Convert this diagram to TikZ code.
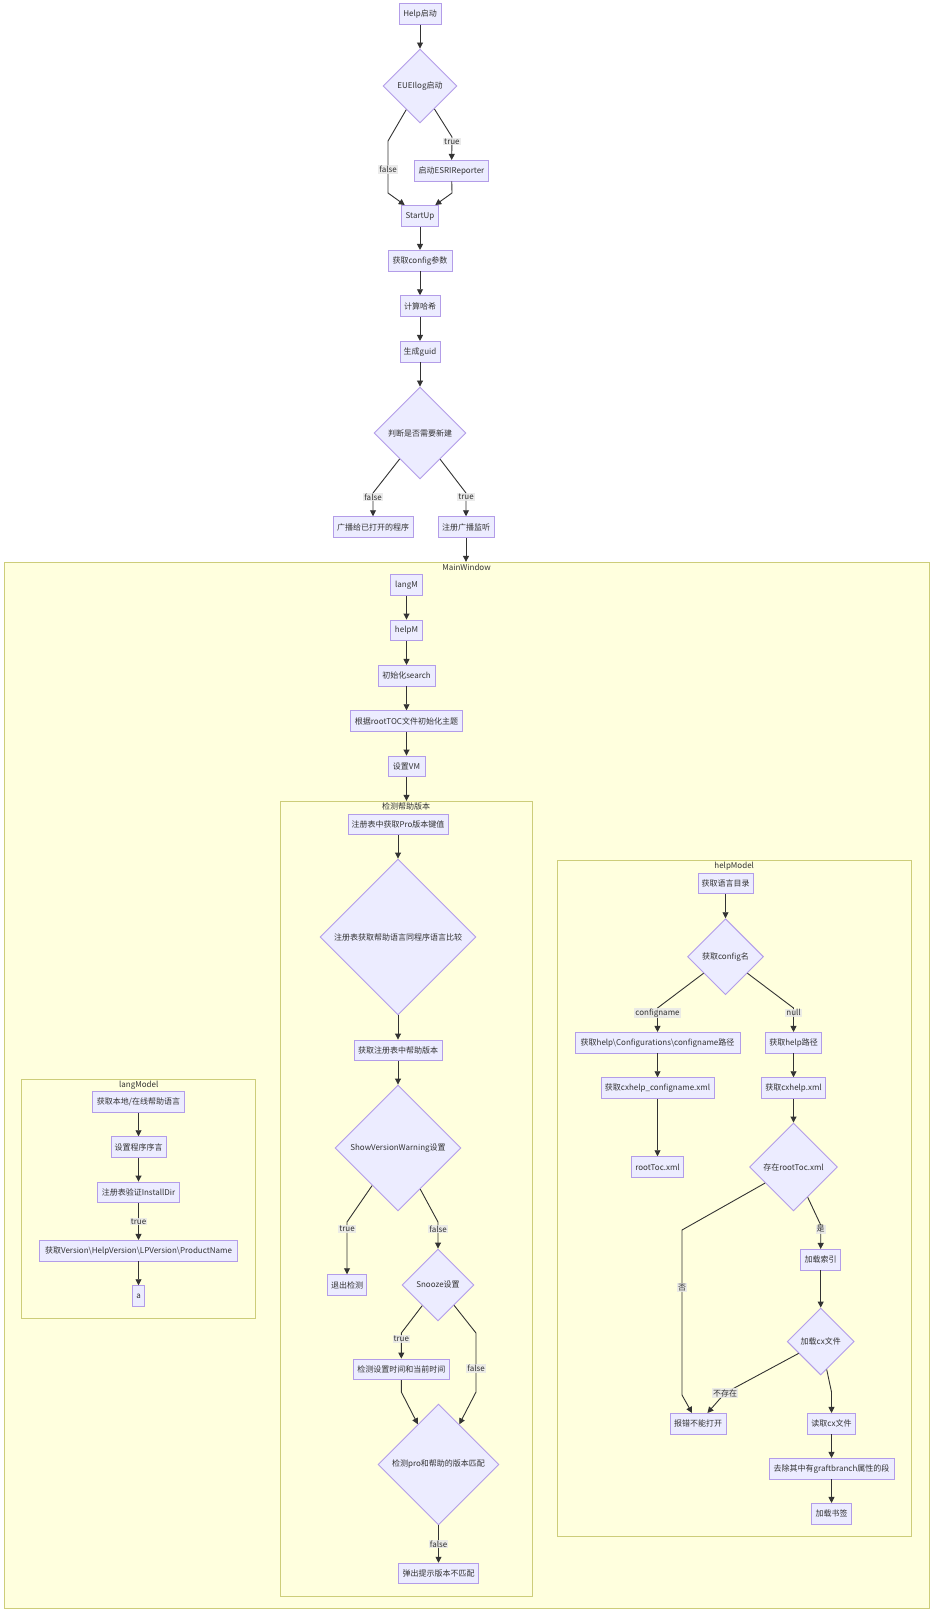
\documentclass[tikz,border=0pt]{standalone}
\usepackage{fontspec}
\setmainfont{Noto Sans CJK SC}
\usetikzlibrary{shapes.geometric,arrows.meta}
\definecolor{nodefill}{HTML}{ECECFF}
\definecolor{nodeline}{HTML}{B39DE8}
\definecolor{clusfill}{HTML}{FFFFDE}
\definecolor{clusline}{HTML}{CDCD7A}
\definecolor{txt}{HTML}{333333}
\definecolor{lblbg}{HTML}{E8E8E8}
\tikzset{
  fnt/.style={font=\fontsize{8}{9}\selectfont},
  box/.style={draw=nodeline, fill=nodefill, line width=0.9pt, minimum height=20.6pt,
    inner xsep=3pt, inner ysep=0pt, text=txt, fnt},
  dia/.style={diamond, aspect=1, draw=nodeline, fill=nodefill, line width=0.9pt,
    inner sep=0pt, text=txt, fnt},
  clus/.style={draw=clusline, fill=clusfill, line width=1pt, inner sep=0pt},
  clab/.style={text=txt, fnt, inner sep=0pt, anchor=north},
  edge/.style={draw=txt, line width=0.9pt, -{Triangle[length=6pt,width=6pt]}},
  lbl/.style={fill=lblbg, fill opacity=0.85, text opacity=1, text=txt, fnt,
    inner xsep=1pt, inner ysep=1pt}
}
\begin{document}
\begin{tikzpicture}[x=1pt,y=-1pt]
\fill[white] (0,0) rectangle (933,1613);
\useasboundingbox (0,0) rectangle (933,1613);

% clusters
\node[clus, minimum width=925pt, minimum height=1045.7pt] (mainwin) at (466.5,1085.2) {};
\node[clab] (mainwinlab) at (466.5,563.5) {MainWindow};
\node[clus, minimum width=252pt, minimum height=794.7pt] (chk) at (406,1198.7) {};
\node[clab] (chklab) at (406,802.5) {检测帮助版本};
\node[clus, minimum width=234pt, minimum height=238.7pt] (langmodel) at (138.7,1198.7) {};
\node[clab] (langmodellab) at (138.7,1080.5) {langModel};
\node[clus, minimum width=353.7pt, minimum height=676pt] (helpmodel) at (734.2,1198.7) {};
\node[clab] (helpmodellab) at (734.2,862) {helpModel};

% top column
\node[box, minimum width=42pt] (help) at (420,14) {Help启动};
\node[dia, minimum width=74pt, minimum height=74pt] (eue) at (420,86) {EUEIlog启动};
\node[box, minimum width=74pt] (esri) at (451.5,170.7) {启动ESRIReporter};
\node[box, minimum width=37pt, minimum height=21pt] (startup) at (420,216) {StartUp};
\node[box, minimum width=64pt] (cfg) at (420,260.7) {获取config参数};
\node[box, minimum width=40pt] (hash) at (420,306) {计算哈希};
\node[box, minimum width=40pt] (guid) at (420,351.7) {生成guid};
\node[dia, minimum width=92pt, minimum height=92pt] (judge) at (420,433) {判断是否需要新建};
\node[box, minimum width=80pt] (bc) at (373,527) {广播给已打开的程序};
\node[box, minimum width=56pt] (reg) at (466,527) {注册广播监听};

% main window column
\node[box, minimum width=32pt] (langm) at (406.5,585) {langM};
\node[box, minimum width=32pt] (helpm) at (406.5,630.3) {helpM};
\node[box, minimum width=57pt] (search) at (406.5,675.7) {初始化search};
\node[box, minimum width=112pt] (theme) at (406.5,721) {根据rootTOC文件初始化主题};
\node[box, minimum width=37pt] (vm) at (406.5,766.3) {设置VM};

% check cluster
\node[box, minimum width=100pt] (pro) at (398,824.3) {注册表中获取Pro版本键值};
\node[dia, minimum width=156pt, minimum height=156pt] (cmp) at (398,937) {注册表获取帮助语言同程序语言比较};
\node[box, minimum width=88pt] (getver) at (398,1050.3) {获取注册表中帮助版本};
\node[dia, minimum width=126pt, minimum height=126pt] (svw) at (398,1148) {ShowVersionWarning设置};
\node[box, minimum width=39pt] (exit) at (347,1285) {退出检测};
\node[dia, minimum width=72pt, minimum height=72pt] (snooze) at (438,1285) {Snooze设置};
\node[box, minimum width=96pt] (chktime) at (401.3,1369.3) {检测设置时间和当前时间};
\node[dia, minimum width=121pt, minimum height=121pt] (match) at (438.5,1464.5) {检测pro和帮助的版本匹配};
\node[box, minimum width=80pt] (popup) at (438.5,1573.5) {弹出提示版本不匹配};

% langModel
\node[box, minimum width=92pt] (lang1) at (138.5,1102) {获取本地/在线帮助语言};
\node[box, minimum width=55pt] (lang2) at (138.5,1147) {设置程序序言};
\node[box, minimum width=82pt] (lang3) at (138.5,1192.3) {注册表验证InstallDir};
\node[box, minimum width=198pt] (lang4) at (138.5,1250.7) {获取Version\textbackslash HelpVersion\textbackslash LPVersion\textbackslash ProductName};
\node[box, minimum width=12pt, inner xsep=2pt] (langa) at (138.5,1296) {a};

% helpModel
\node[box, minimum width=55pt] (hm1) at (725.5,883.5) {获取语言目录};
\node[dia, minimum width=76pt, minimum height=76pt] (hcfg) at (725.5,956.7) {获取config名};
\node[box, minimum width=165pt] (hpath1) at (657.5,1042.7) {获取help\textbackslash Configurations\textbackslash configname路径};
\node[box, minimum width=56pt] (hpath2) at (793.5,1042.7) {获取help路径};
\node[box, minimum width=113pt] (hx1) at (657.5,1088) {获取cxhelp\_configname.xml};
\node[box, minimum width=64pt] (hx2) at (793.5,1088) {获取cxhelp.xml};
\node[box, minimum width=52pt] (root) at (657.5,1167) {rootToc.xml};
\node[dia, minimum width=88pt, minimum height=88pt] (exist) at (793.5,1167) {存在rootToc.xml};
\node[box, minimum width=40pt] (idx) at (820.7,1259.7) {加载索引};
\node[dia, minimum width=67pt, minimum height=67pt] (loadcx) at (820.7,1341.5) {加载cx文件};
\node[box, minimum width=56pt] (err) at (698,1423.7) {报错不能打开};
\node[box, minimum width=48pt] (read) at (831.5,1423.7) {读取cx文件};
\node[box, minimum width=125pt] (graft) at (831.5,1468.7) {去除其中有graftbranch属性的段};
\node[box, minimum width=40pt] (bm) at (831.5,1513.7) {加载书签};

% edges: top
\draw[edge] (help) -- (eue);
\draw[edge] (eue) -- (388,141) -- node[lbl,pos=0.55]{false} (388,193) -- (startup);
\draw[edge] (eue) -- (452,137) -- node[lbl,pos=0.2]{true} (esri);
\draw[edge] (esri) -- (452,193) -- (startup);
\draw[edge] (startup) -- (cfg);
\draw[edge] (cfg) -- (hash);
\draw[edge] (hash) -- (guid);
\draw[edge] (guid) -- (judge);
\draw[edge] (judge) -- (373,493) -- node[lbl,pos=0.17]{false} (bc);
\draw[edge] (judge) -- (466,493) -- node[lbl,pos=0.17]{true} (reg);
\draw[edge] (reg) -- (reg |- mainwin.north);

% main window
\draw[edge] (langm) -- (helpm);
\draw[edge] (helpm) -- (search);
\draw[edge] (search) -- (theme);
\draw[edge] (theme) -- (vm);
\draw[edge] (vm) -- (vm |- chk.north);

% check cluster
\draw[edge] (pro) -- (cmp);
\draw[edge] (cmp) -- (getver);
\draw[edge] (getver) -- (svw);
\draw[edge] (svw) -- (347,1222) -- node[lbl,pos=0.13]{true} (exit);
\draw[edge] (svw) -- (438,1222) -- node[lbl,pos=0.26]{false} (snooze);
\draw[edge] (snooze) -- (401.3,1333) -- node[lbl,pos=0.23]{true} (chktime);
\draw[edge] (snooze) -- (476,1333) -- node[lbl,pos=0.6]{false} (476,1392) -- (match);
\draw[edge] (chktime) -- (401.3,1392) -- (match);
\draw[edge] (match) -- node[lbl]{false} (popup);

% langModel
\draw[edge] (lang1) -- (lang2);
\draw[edge] (lang2) -- (lang3);
\draw[edge] (lang3) -- node[lbl]{true} (lang4);
\draw[edge] (lang4) -- (langa);

% helpModel
\draw[edge] (hm1) -- (hcfg);
\draw[edge] (hcfg) -- (657.5,1008) -- node[lbl,pos=0.2]{configname} (hpath1);
\draw[edge] (hcfg) -- (793.5,1008) -- node[lbl,pos=0.2]{null} (hpath2);
\draw[edge] (hpath1) -- (hx1);
\draw[edge] (hpath2) -- (hx2);
\draw[edge] (hx1) -- (root);
\draw[edge] (hx2) -- (exist);
\draw[edge] (exist) -- (682,1230) -- node[lbl,pos=0.35]{否} (682,1395) -- (err);
\draw[edge] (exist) -- (820.7,1225) -- node[lbl,pos=0.17]{是} (idx);
\draw[edge] (idx) -- (loadcx);
\draw[edge] (loadcx) -- (725,1393) node[lbl]{不存在} -- (err);
\draw[edge] (loadcx) -- (831.5,1392) -- (read);
\draw[edge] (read) -- (graft);
\draw[edge] (graft) -- (bm);
\end{tikzpicture}
\end{document}
